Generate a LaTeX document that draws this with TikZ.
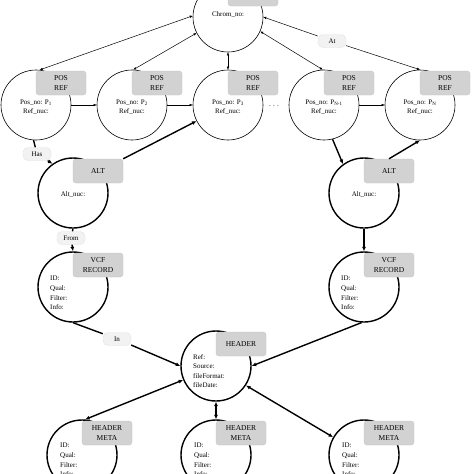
\documentclass[tikz,border=0pt]{standalone}
\usepackage{fontspec}
\setmainfont{Liberation Serif}
\usetikzlibrary{arrows.meta}
\begin{document}
\begin{tikzpicture}[x=1pt,y=-1pt,font=\fontsize{7}{9.6}\selectfont,
  thincirc/.style={circle,draw,line width=0.6pt,minimum size=70pt,inner sep=0pt},
  thickcirc/.style={circle,draw,line width=1.4pt,minimum size=70pt,inner sep=0pt},
  tag/.style={rectangle,rounded corners=3pt,fill=gray!35,draw=gray!45,minimum width=50pt,minimum height=24pt,inner sep=1pt,align=center,font=\fontsize{7.5}{10}\selectfont},
  pill/.style={rectangle,rounded corners=5pt,fill=gray!10,draw=gray!22,minimum width=28pt,minimum height=13pt,inner sep=1pt},
  ctext/.style={align=center,inner sep=0pt},
  ltext/.style={align=left,inner sep=0pt,anchor=west},
  thinarr/.style={-{Latex[length=3pt,width=2.6pt]},line width=0.5pt},
  thinbi/.style={{Latex[length=3pt,width=2.6pt]}-{Latex[length=3pt,width=2.6pt]},line width=0.5pt},
  thickline/.style={line width=1.4pt},
  thickarr/.style={-{Latex[length=4.5pt,width=4pt]},line width=1.4pt},
  thickbi/.style={{Latex[length=4.5pt,width=4pt]}-{Latex[length=4.5pt,width=4pt]},line width=1.4pt}]
\clip (0,0) rectangle (474,474);
\fill[white] (0,0) rectangle (474,474);
% circles
\node[thincirc] (chrom) at (228,17) {};
\node[thincirc] (p1) at (36,105) {};
\node[thincirc] (p2) at (132,105) {};
\node[thincirc] (p3) at (228,105) {};
\node[thincirc] (p4) at (324,105) {};
\node[thincirc] (p5) at (420,105) {};
\node[thickcirc] (alt1) at (73,193) {};
\node[thickcirc] (alt2) at (364,193) {};
\node[thickcirc] (vcf1) at (73,287) {};
\node[thickcirc] (vcf2) at (364,287) {};
\node[thickcirc] (hdr) at (216,366) {};
\node[thickcirc] (hm1) at (82,455) {};
\node[thickcirc] (hm2) at (216,455) {};
\node[thickcirc] (hm3) at (364,455) {};
% texts
\node[ctext] (chromt) at (228,15) {Chrom\_no:};
\node[ctext] (p1t) at (36,107) {Pos\_no: P\textsubscript{1}\\Ref\_nuc:};
\node[ctext] (p2t) at (132,107) {Pos\_no: P\textsubscript{2}\\Ref\_nuc:};
\node[ctext] (p3t) at (228,107) {Pos\_no: P\textsubscript{3}\\Ref\_nuc:};
\node[ctext] (p4t) at (324,107) {Pos\_no: P\textsubscript{N-1}\\Ref\_nuc:};
\node[ctext] (p5t) at (420,107) {Pos\_no: P\textsubscript{N}\\Ref\_nuc:};
\node[ctext] (dots) at (274,106) {.\,\,.\,\,.};
\node[ctext] (alt1t) at (73,195) {Alt\_nuc:};
\node[ctext] (alt2t) at (364,195) {Alt\_nuc:};
\node[ltext] (vcf1t) at (50,293) {ID:\\Qual:\\Filter:\\Info:};
\node[ltext] (vcf2t) at (341,293) {ID:\\Qual:\\Filter:\\Info:};
\node[ltext] (hdrt) at (193,371) {Ref:\\Source:\\fileFormat:\\fileDate:};
\node[ltext] (hm1t) at (60,460) {ID:\\Qual:\\Filter:\\Info:};
\node[ltext] (hm2t) at (194,460) {ID:\\Qual:\\Filter:\\Info:};
\node[ltext] (hm3t) at (342,460) {ID:\\Qual:\\Filter:\\Info:};
% pills
\node[pill] (at) at (332,41) {At};
\node[pill] (has) at (37,154) {Has};
\node[pill] (from) at (71,238) {From};
\node[pill] (in) at (117,339) {In};
% thin connectors
\draw[thinbi] (chrom.178) -- (p1.84);
\draw[thinbi] (chrom.207) -- (p2.88);
\draw[thinbi] (chrom.south) -- (p3.north);
\draw[thinbi] (chrom.336) -- (p4.92);
\draw[thinarr] (at) -- (chrom.0);
\draw[thinarr] (at) -- (p5.north);
\draw[thinarr] (p1.east) -- (p2.west);
\draw[thinarr] (p2.east) -- (p3.west);
\draw[thinarr] (p4.east) -- (p5.west);
% tags
\node[tag] (tchrom) at (253,-6) {};
\node[tag] (tp1) at (61,83) {POS\\REF};
\node[tag] (tp2) at (157,83) {POS\\REF};
\node[tag] (tp3) at (253,83) {POS\\REF};
\node[tag] (tp4) at (349,83) {POS\\REF};
\node[tag] (tp5) at (445,83) {POS\\REF};
\node[tag] (talt1) at (98,171) {ALT};
\node[tag] (talt2) at (389,171) {ALT};
\node[tag] (tvcf1) at (98,265) {VCF\\RECORD};
\node[tag] (tvcf2) at (389,265) {VCF\\RECORD};
\node[tag] (thdr) at (241,344) {HEADER};
\node[tag] (thm1) at (107,433) {HEADER\\META};
\node[tag] (thm2) at (241,433) {HEADER\\META};
\node[tag] (thm3) at (389,433) {HEADER\\META};
% thick connectors
\draw[thickline] (p1.266) -- (has);
\draw[thickarr] (has) -- (alt1.125);
\draw[thickarr] (talt1.north east) -- (p3.207);
\draw[thickarr] (p4.284) -- (alt2.126);
\draw[thickarr] (talt2.north) -- (p5.south);
\draw[thickarr] (alt2.south) -- (vcf2.north);
\draw[thickline] (alt1.south) -- (from);
\draw[thickarr] (from) -- (vcf1.north);
\draw[thickline] (vcf1.south) -- (in);
\draw[thickarr] (in) -- (hdr.west);
\draw[thickarr] (vcf2.266) -- (hdr.east);
\draw[thickbi] (hm1.85) -- (hdr.203);
\draw[thickbi] (hdr.south) -- (hm2.north);
\draw[thickbi] (hdr.327) -- (hm3.150);
\end{tikzpicture}
\end{document}
